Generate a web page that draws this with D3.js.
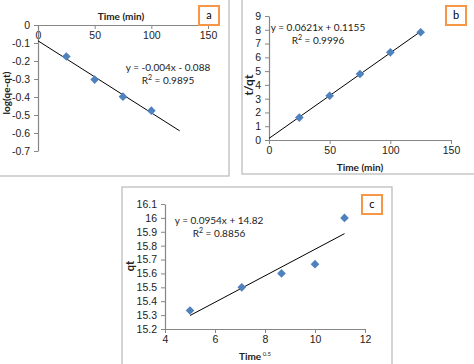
<!DOCTYPE html>
<html>
<head>
<meta charset="utf-8">
<script src="https://cdnjs.cloudflare.com/ajax/libs/d3/7.8.5/d3.min.js"></script>
<style>
  body { margin: 0; background: #fff; }
  svg { display: block; font-family: Lato, "Open Sans", sans-serif; }
  .axis path, .axis line { stroke: #868686; }
  .axis text { font-size: 10.5px; fill: #222; }
  .title { font-size: 10px; font-weight: bold; fill: #222; }
  .eq { font-size: 10px; fill: #222; }
</style>
</head>
<body>
<div id="chart"></div>
<script>
// panel a: pseudo first order
const timeA = [25, 50, 75, 100];
const logA = [-0.175, -0.303, -0.398, -0.476];
const fitA = { slope: -0.004, intercept: -0.088, from: 0, to: 125 };

// panel b: pseudo second order
const timeB = [25, 50, 75, 100, 125];
const tqB = [1.63, 3.21, 4.79, 6.36, 7.82];
const fitB = { slope: 0.0621, intercept: 0.1155, from: 0, to: 125 };

// panel c: intraparticle diffusion
const sqrtTimeC = [5, 7.07, 8.66, 10, 11.18];
const qtC = [15.333, 15.5, 15.6, 15.667, 16.0];
const fitC = { slope: 0.0954, intercept: 14.82, from: 5, to: 11.18 };

const ticksA = { x: [0, 50, 100, 150], y: [0, -0.1, -0.2, -0.3, -0.4, -0.5, -0.6, -0.7] };
const ticksB = { x: [0, 50, 100, 150], y: [0, 1, 2, 3, 4, 5, 6, 7, 8, 9] };
const ticksC = { x: [4, 6, 8, 10, 12], y: [15.2, 15.3, 15.4, 15.5, 15.6, 15.7, 15.8, 15.9, 16, 16.1] };

const width = 474, height = 364;

const svg = d3.select("#chart")
  .append("svg")
  .attr("width", width)
  .attr("height", height);

// panel frames
const frames = [
  { x: -2, y: -2, w: 231, h: 178 },
  { x: 242, y: -2, w: 240, h: 176 },
  { x: 122, y: 187, w: 270, h: 180 }
];
svg.selectAll("rect.frame")
  .data(frames)
  .enter()
  .append("rect")
  .attr("class", "frame")
  .attr("x", d => d.x)
  .attr("y", d => d.y)
  .attr("width", d => d.w)
  .attr("height", d => d.h)
  .attr("fill", "#fff")
  .attr("stroke", "#bdbdbd")
  .attr("stroke-width", 1.3);

const diamond = d3.symbol().type(d3.symbolDiamond2).size(48);

function drawPanel(opt) {
  const g = svg.append("g");
  const x = d3.scaleLinear().domain(opt.xDomain).range(opt.xRange);
  const y = d3.scaleLinear().domain(opt.yDomain).range(opt.yRange);

  const xAxis = d3.axisBottom(x).tickValues(opt.ticks.x).tickSize(4).tickSizeOuter(0).tickPadding(3);
  g.append("g")
    .attr("class", "axis")
    .attr("transform", "translate(0," + y(opt.xAxisAt) + ")")
    .call(xAxis);

  const yAxis = d3.axisLeft(y).tickValues(opt.ticks.y).tickSize(4).tickSizeOuter(0).tickPadding(4)
    .tickFormat(d => String(Math.round(d * 10) / 10));
  g.append("g")
    .attr("class", "axis")
    .attr("transform", "translate(" + x(opt.xDomain[0]) + ",0)")
    .call(yAxis);
  g.selectAll(".axis .domain").attr("stroke-width", 1.2);

  // trendline
  g.append("line")
    .attr("x1", x(opt.fit.from))
    .attr("y1", y(opt.fit.slope * opt.fit.from + opt.fit.intercept))
    .attr("x2", x(opt.fit.to))
    .attr("y2", y(opt.fit.slope * opt.fit.to + opt.fit.intercept))
    .attr("stroke", "#000")
    .attr("stroke-width", 1);

  // points
  g.selectAll("path.pt")
    .data(opt.xs)
    .enter()
    .append("path")
    .attr("class", "pt")
    .attr("d", diamond)
    .attr("transform", (d, i) => "translate(" + x(d) + "," + y(opt.ys[i]) + ")")
    .attr("fill", "#4f81bd");

  // equation
  g.append("text").attr("class", "eq")
    .attr("x", opt.eq.x).attr("y", opt.eq.y)
    .attr("text-anchor", "middle")
    .text(opt.eq.line1);
  const r2 = g.append("text").attr("class", "eq")
    .attr("x", opt.eq.x).attr("y", opt.eq.y + 13)
    .attr("text-anchor", "middle");
  r2.append("tspan").text("R");
  r2.append("tspan").attr("dy", -4).attr("font-size", "7px").text("2");
  r2.append("tspan").attr("dy", 4).text(" = " + opt.eq.r2);

  // axis titles
  const xt = g.append("text").attr("class", "title")
    .attr("x", opt.xTitle.x).attr("y", opt.xTitle.y)
    .attr("text-anchor", "middle")
    .text(opt.xTitle.text);
  if (opt.xTitle.sup) {
    xt.append("tspan").attr("dy", -4).attr("font-size", "6px").attr("font-weight", "normal").text(" " + opt.xTitle.sup);
  }
  g.append("text").attr("class", "title")
    .attr("transform", "translate(" + opt.yTitle.x + "," + opt.yTitle.y + ") rotate(-90)")
    .attr("text-anchor", "middle")
    .style("font-size", opt.yTitle.size)
    .text(opt.yTitle.text);

  // panel letter
  g.append("rect")
    .attr("x", opt.tag.x).attr("y", opt.tag.y)
    .attr("width", 20).attr("height", 19)
    .attr("fill", "#fff")
    .attr("stroke", "#f79646")
    .attr("stroke-width", 2);
  g.append("text")
    .attr("x", opt.tag.x + 10).attr("y", opt.tag.y + 13)
    .attr("text-anchor", "middle")
    .attr("font-size", "11px")
    .text(opt.tag.text);
}

drawPanel({
  xs: timeA, ys: logA, fit: fitA, ticks: ticksA,
  xDomain: [0, 150], xRange: [38, 208],
  yDomain: [0, -0.7], yRange: [25, 151], xAxisAt: 0,
  eq: { x: 168, y: 71, line1: "y = -0.004x - 0.088", r2: "0.9895" },
  xTitle: { x: 121, y: 20, text: "Time (min)" },
  yTitle: { x: 10, y: 93, text: "log(qe-qt)", size: "10px" },
  tag: { x: 199, y: 6, text: "a" }
});

drawPanel({
  xs: timeB, ys: tqB, fit: fitB, ticks: ticksB,
  xDomain: [0, 150], xRange: [269, 451],
  yDomain: [0, 9], yRange: [140, 16], xAxisAt: 0,
  eq: { x: 318, y: 31, line1: "y = 0.0621x + 0.1155", r2: "0.9996" },
  xTitle: { x: 360, y: 171, text: "Time (min)" },
  yTitle: { x: 253, y: 85, text: "t/qt", size: "12px" },
  tag: { x: 446, y: 6, text: "b" }
});

drawPanel({
  xs: sqrtTimeC, ys: qtC, fit: fitC, ticks: ticksC,
  xDomain: [4, 12], xRange: [165, 365],
  yDomain: [15.2, 16.1], yRange: [329, 204], xAxisAt: 15.2,
  eq: { x: 219, y: 224, line1: "y = 0.0954x + 14.82", r2: "0.8856" },
  xTitle: { x: 255, y: 360, text: "Time", sup: "0.5" },
  yTitle: { x: 134, y: 266, text: "qt", size: "11px" },
  tag: { x: 362, y: 195, text: "c" }
});
</script>
</body>
</html>
